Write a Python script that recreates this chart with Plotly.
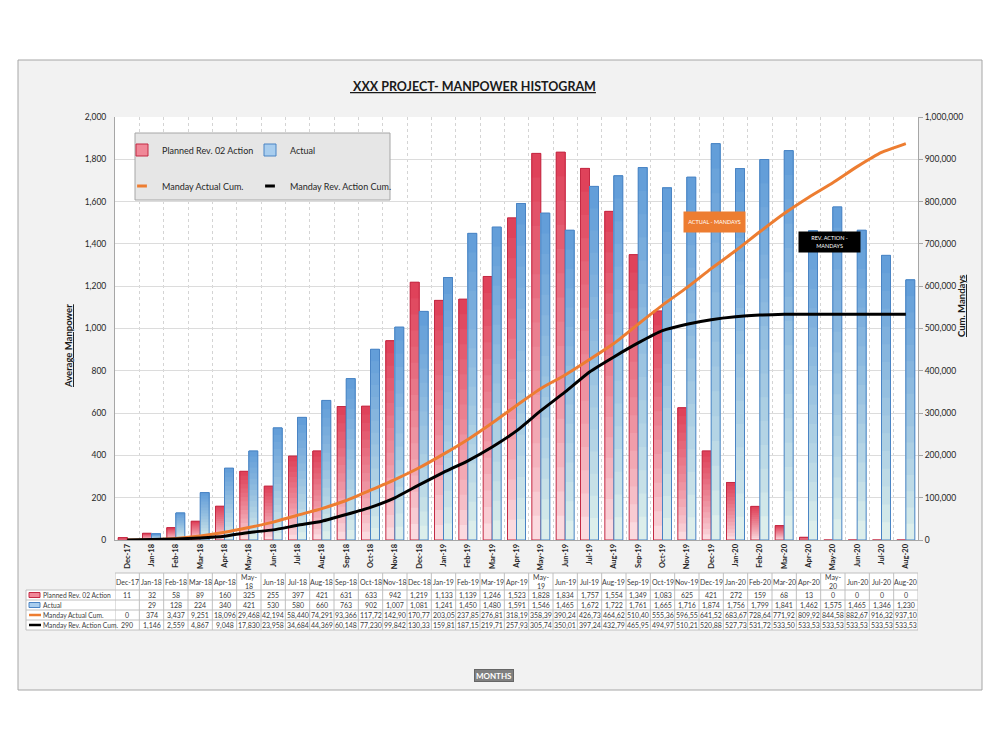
import plotly.graph_objects as go

# ---------------- data ----------------
months = ["Dec-17", "Jan-18", "Feb-18", "Mar-18", "Apr-18", "May-18", "Jun-18", "Jul-18",
          "Aug-18", "Sep-18", "Oct-18", "Nov-18", "Dec-18", "Jan-19", "Feb-19", "Mar-19",
          "Apr-19", "May-19", "Jun-19", "Jul-19", "Aug-19", "Sep-19", "Oct-19", "Nov-19",
          "Dec-19", "Jan-20", "Feb-20", "Mar-20", "Apr-20", "May-20", "Jun-20", "Jul-20",
          "Aug-20"]
planned = [11, 32, 58, 89, 160, 325, 255, 397, 421, 631, 633, 942, 1219, 1133, 1139, 1246,
           1523, 1828, 1834, 1757, 1554, 1349, 1083, 625, 421, 272, 159, 68, 13, 0, 0, 0, 0]
actual = [None, 29, 128, 224, 340, 421, 530, 580, 660, 763, 902, 1007, 1081, 1241, 1450, 1480,
          1591, 1546, 1465, 1672, 1722, 1761, 1665, 1716, 1874, 1756, 1799, 1841, 1462, 1575,
          1465, 1346, 1230]
actual_cum = [0, 374, 3437, 9251, 18096, 29468, 42194, 58440, 74291, 93366, 117720, 142900,
              170770, 203050, 237850, 276810, 318190, 358390, 390240, 426730, 464620, 510400,
              555360, 596550, 641520, 683670, 728640, 771920, 809920, 844580, 882670, 916320,
              937100]
rev_cum = [290, 1146, 2559, 4867, 9048, 17830, 23958, 34684, 44369, 60148, 77230, 99842,
           130330, 159810, 187150, 219710, 257930, 305740, 350010, 397240, 432790, 465950,
           494970, 510210, 520880, 527730, 531720, 533500, 533530, 533530, 533530, 533530,
           533530]

series_names = ["Planned Rev. 02 Action", "Actual", "Manday Actual Cum.", "Manday Rev. Action Cum."]

# ---------------- geometry helpers (pixel -> paper) ----------------
W, H = 1000, 750
L, R, T, B = 26, 82, 117, 120
PW, PH = W - L - R, H - T - B


def px(x):
    return (x - L) / PW


def py(y):
    return (H - B - y) / PH


def lerp(c1, c2, t):
    return "rgb(%d,%d,%d)" % tuple(round(a + (b - a) * t) for a, b in zip(c1, c2))


RED_TOP, RED_BOT, RED_LINE = (222, 62, 86), (253, 228, 232), "#c32a44"
BLUE_TOP, BLUE_BOT, BLUE_LINE = (96, 156, 216), (228, 244, 236), "#4a84c4"
RED_KEY, BLUE_KEY = "#f08898", "#a8cdee"
ORANGE, BLACK = "#ED7D31", "#000000"
GRIDC = "#c0c0c0"
FONT = "Lato, sans-serif"

fig = go.Figure()

# ---------------- gradient bars (overlapping bars, each starting higher) ----------------
N = 16
BW = 0.37
for vals, off, top, bot, lc in [(planned, -BW, RED_TOP, RED_BOT, RED_LINE),
                                (actual, 0.0, BLUE_TOP, BLUE_BOT, BLUE_LINE)]:
    for k in range(N):
        t = (k + 0.5) / N
        col = lerp(bot, top, t ** 0.8)
        base = [None if v is None else v * k / N for v in vals]
        hgt = [None if v is None else v - v * k / N for v in vals]
        fig.add_trace(go.Bar(x=months, y=hgt, base=base, width=BW, offset=off,
                             marker=dict(color=col, line=dict(width=0)),
                             showlegend=False, hoverinfo="skip"))
    fig.add_trace(go.Bar(x=months, y=vals, width=BW, offset=off,
                         marker=dict(color="rgba(0,0,0,0)", line=dict(color=lc, width=1)),
                         showlegend=False))

# ---------------- cumulative lines ----------------
fig.add_trace(go.Scatter(x=months, y=actual_cum, yaxis="y2", mode="lines", name=series_names[2],
                         showlegend=False,
                         line=dict(color=ORANGE, width=3, shape="spline", smoothing=0.5)))
fig.add_trace(go.Scatter(x=months, y=rev_cum, yaxis="y2", mode="lines", name=series_names[3],
                         showlegend=False,
                         line=dict(color=BLACK, width=3, shape="spline", smoothing=0.5)))

# legend entries (short keys like the reference)
fig.add_trace(go.Bar(x=[months[0]], y=[None], name=series_names[0], legend="legend",
                     marker=dict(color=RED_KEY, line=dict(color=RED_LINE, width=1))))
fig.add_trace(go.Bar(x=[months[0]], y=[None], name=series_names[1], legend="legend2",
                     marker=dict(color=BLUE_KEY, line=dict(color=BLUE_LINE, width=1))))
fig.add_trace(go.Scatter(x=[months[0]], y=[None], yaxis="y2", mode="markers", name=series_names[2],
                         legend="legend3",
                         marker=dict(symbol="line-ew-open", size=7, color=ORANGE,
                                     line=dict(color=ORANGE, width=3))))
fig.add_trace(go.Scatter(x=[months[0]], y=[None], yaxis="y2", mode="markers", name=series_names[3],
                         legend="legend4",
                         marker=dict(symbol="line-ew-open", size=7, color=BLACK,
                                     line=dict(color=BLACK, width=3))))

# ---------------- data table (drawn with shapes + annotations aligned to the x axis) ----------------
def fmt(v):
    return "" if v is None else f"{v:,}"[:6]


TBL_TOP, HDR_BOT, ROW_H = 573, 590, 10
row_tops = [HDR_BOT + i * ROW_H for i in range(4)]
TBL_BOT = HDR_BOT + 4 * ROW_H
LBL_LEFT = 26
n = len(months)

shapes = [
    # outer frame
    dict(type="rect", xref="paper", yref="paper", x0=px(18), x1=px(982), y0=py(690), y1=py(60),
         fillcolor="#f2f2f2", line=dict(color="#a6a6a6", width=1), layer="below"),
    # white plot area
    dict(type="rect", xref="x domain", yref="y domain", x0=0, x1=1, y0=0, y1=1,
         fillcolor="white", line=dict(width=0), layer="below"),
    # white table background
    dict(type="rect", xref="x", yref="paper", x0=-0.5, x1=n - 0.5, y0=py(HDR_BOT), y1=py(TBL_TOP),
         fillcolor="white", line=dict(width=0), layer="below"),
    dict(type="rect", xref="paper", yref="paper", x0=px(LBL_LEFT), x1=1, y0=py(TBL_BOT), y1=py(HDR_BOT),
         fillcolor="white", line=dict(width=0), layer="below"),
    # legend box
    dict(type="rect", xref="paper", yref="paper", x0=px(135), x1=px(390), y0=py(200), y1=py(133),
         fillcolor="#e6e6e6", line=dict(color="#a6a6a6", width=1), layer="above"),
]
# horizontal table lines
shapes.append(dict(type="line", xref="x", yref="paper", x0=-0.5, x1=n - 0.5,
                   y0=py(TBL_TOP), y1=py(TBL_TOP), line=dict(color=GRIDC, width=1), layer="above"))
for yy in [HDR_BOT] + [r + ROW_H for r in row_tops]:
    shapes.append(dict(type="line", xref="paper", yref="paper", x0=px(LBL_LEFT), x1=1,
                       y0=py(yy), y1=py(yy), line=dict(color=GRIDC, width=1), layer="above"))
# vertical table lines
for i in range(n + 1):
    shapes.append(dict(type="line", xref="x", yref="paper", x0=i - 0.5, x1=i - 0.5,
                       y0=py(TBL_BOT), y1=py(TBL_TOP), line=dict(color=GRIDC, width=1), layer="above"))
shapes.append(dict(type="line", xref="paper", yref="paper", x0=px(LBL_LEFT), x1=px(LBL_LEFT),
                   y0=py(TBL_BOT), y1=py(HDR_BOT), line=dict(color=GRIDC, width=1), layer="above"))

# legend keys inside the table's label column
keys = [("bar", RED_KEY, RED_LINE), ("bar", BLUE_KEY, BLUE_LINE), ("line", ORANGE, None), ("line", BLACK, None)]
for (kind, c1, c2), top in zip(keys, row_tops):
    cy = top + ROW_H / 2
    if kind == "bar":
        shapes.append(dict(type="rect", xref="paper", yref="paper", x0=px(29), x1=px(40),
                           y0=py(cy + 2.5), y1=py(cy - 2.5), fillcolor=c1,
                           line=dict(color=c2, width=1), layer="above"))
    else:
        shapes.append(dict(type="line", xref="paper", yref="paper", x0=px(29), x1=px(41),
                           y0=py(cy), y1=py(cy), line=dict(color=c1, width=2.5), layer="above"))

annotations = []
tfont = dict(family=FONT, size=7, color="#404040")
lfont = dict(family=FONT, size=6.7, color="#404040")
for name, top in zip(series_names, row_tops):
    annotations.append(dict(text=name, xref="paper", yref="paper", x=px(40.5), y=py(top + ROW_H / 2),
                            xanchor="left", yanchor="middle", showarrow=False, font=lfont))
rows = [planned, actual, actual_cum, rev_cum]
for i, m in enumerate(months):
    annotations.append(dict(text=m.replace("May-", "May-<br>"), xref="x", yref="paper", x=m,
                            y=py((TBL_TOP + HDR_BOT) / 2), xanchor="center", yanchor="middle",
                            showarrow=False, font=tfont))
    for vals, top in zip(rows, row_tops):
        annotations.append(dict(text=fmt(vals[i]), xref="x", yref="paper", x=m,
                                y=py(top + ROW_H / 2), xanchor="center", yanchor="middle",
                                showarrow=False, font=tfont))

annotations += [
    dict(text="<b><u>\u00a0XXX PROJECT- MANPOWER HISTOGRAM</u></b>", xref="paper", yref="paper",
         x=px(473), y=py(87), showarrow=False, xanchor="center", yanchor="middle",
         font=dict(family=FONT, size=12.5, color="#1a1a1a")),
    dict(text="<b><u>Average Manpower</u></b>", xref="paper", yref="paper",
         x=px(68), y=py(346), showarrow=False, textangle=-90, xanchor="center", yanchor="middle",
         font=dict(family=FONT, size=9.5, color="#1a1a1a")),
    dict(text="<b><u>Cum. Mandays</u></b>", xref="paper", yref="paper",
         x=px(961), y=py(306), showarrow=False, textangle=-90, xanchor="center", yanchor="middle",
         font=dict(family=FONT, size=9.5, color="#1a1a1a")),
    dict(text="ACTUAL - MANDAYS", xref="paper", yref="paper",
         x=px(714.5), y=py(222), showarrow=False, xanchor="center", yanchor="middle",
         width=61, height=20, bgcolor=ORANGE, borderpad=0,
         font=dict(family=FONT, size=5.5, color="white")),
    dict(text="REV. ACTION -<br>MANDAYS", xref="paper", yref="paper",
         x=px(829.5), y=py(242), showarrow=False, xanchor="center", yanchor="middle",
         width=61, height=20, bgcolor="black", borderpad=0,
         font=dict(family=FONT, size=5.5, color="white")),
    dict(text="<b>MONTHS</b>", xref="paper", yref="paper",
         x=px(493.5), y=py(675.5), showarrow=False, xanchor="center", yanchor="middle",
         width=38, height=11, bgcolor="#808080", bordercolor="#666666", borderwidth=1,
         borderpad=0, font=dict(family=FONT, size=8, color="white")),
]

# ---------------- layout ----------------
legend_common = dict(orientation="v", bgcolor="rgba(0,0,0,0)", borderwidth=0,
                     font=dict(family=FONT, size=9, color="#262626"),
                     itemwidth=30, xanchor="left", yanchor="middle", tracegroupgap=0)

fig.update_layout(
    width=W, height=H,
    margin=dict(l=L, r=R, t=T, b=B, pad=0),
    paper_bgcolor="white", plot_bgcolor="white",
    font=dict(family=FONT, color="#404040"),
    barmode="overlay",
    showlegend=True,
    legend=dict(x=px(122), y=py(150), **legend_common),
    legend2=dict(x=px(250), y=py(150), **legend_common),
    legend3=dict(x=px(122), y=py(186), **legend_common),
    legend4=dict(x=px(250), y=py(186), **legend_common),
    xaxis=dict(domain=[px(115), 1], type="category", range=[-0.5, n - 0.5],
               tickson="boundaries", showgrid=True, gridcolor="#d4d4d4", griddash="dot",
               showline=True, linecolor="#a6a6a6", ticks="", tickangle=-90,
               tickfont=dict(family=FONT, size=7.5, color="#262626", weight="bold")),
    yaxis=dict(domain=[py(540), 1], range=[0, 2000], dtick=200, tickformat=",d",
               showgrid=True, gridcolor="#dcdcdc", zeroline=False,
               showline=True, linecolor="#a6a6a6", ticks="", ticklabelstandoff=6,
               tickfont=dict(family=FONT, size=8.5, color="#262626")),
    yaxis2=dict(overlaying="y", side="right", anchor="x", range=[0, 1000000], dtick=100000,
                tickformat=",d", showgrid=False, zeroline=False,
                showline=True, linecolor="#a6a6a6", ticks="outside", ticklen=4,
                tickcolor="#a6a6a6",
                tickfont=dict(family=FONT, size=8.5, color="#262626")),
    shapes=shapes,
    annotations=annotations,
)

fig.write_html("out.html")
